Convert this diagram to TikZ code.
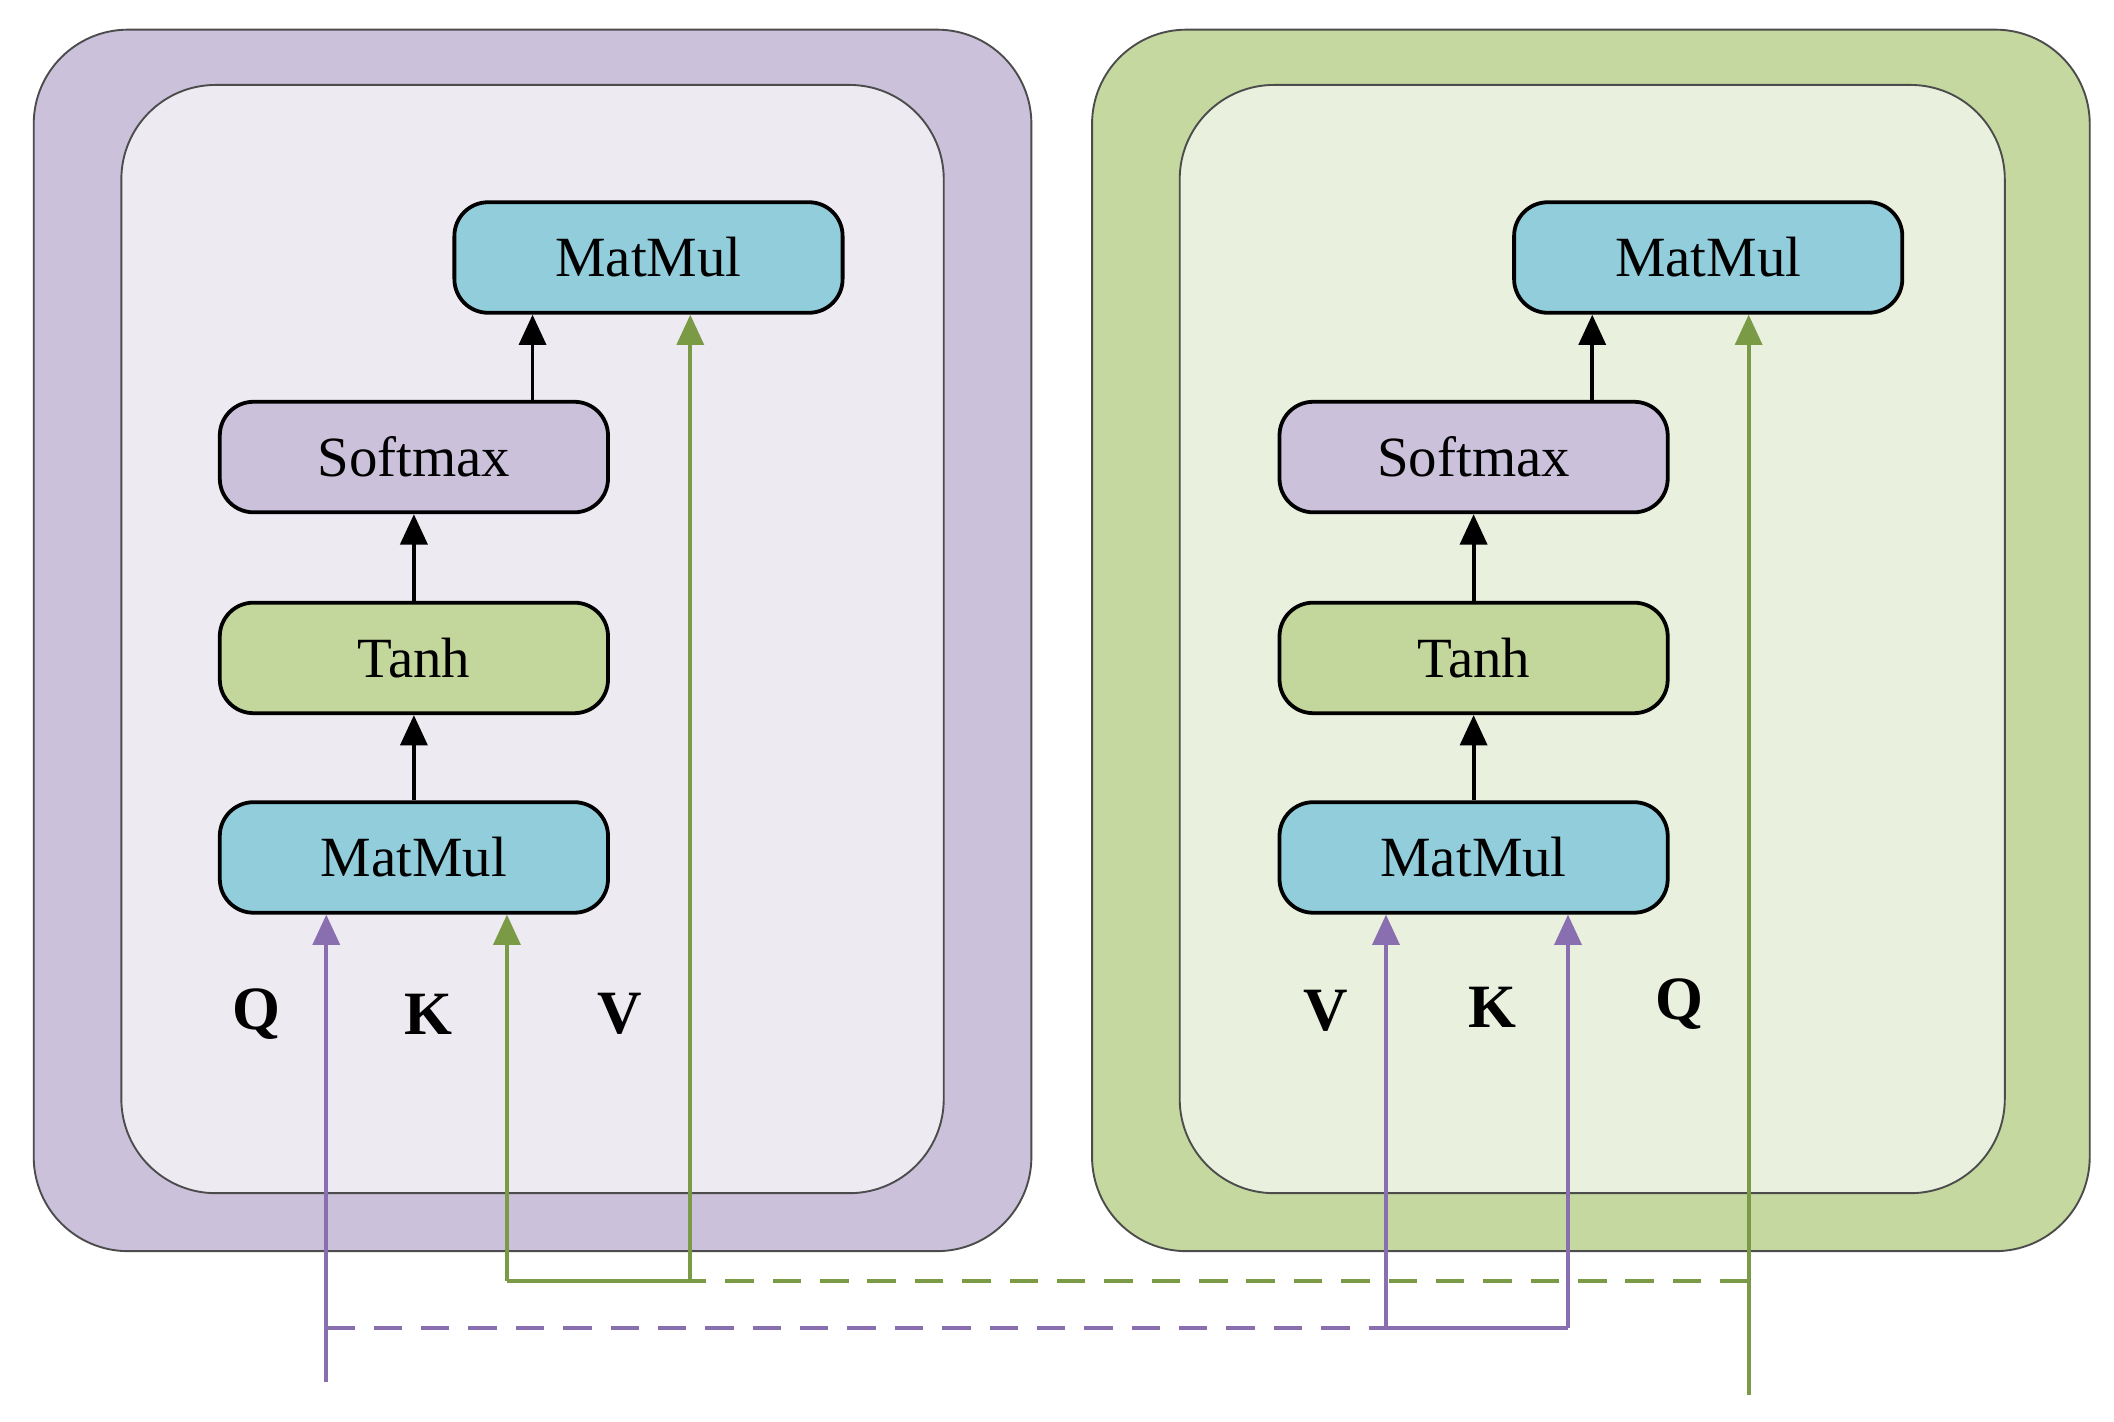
\documentclass[tikz,border=0pt]{standalone}
\usepackage{fontspec}
\setmainfont{Liberation Serif}
\usetikzlibrary{arrows.meta}
\definecolor{pout}{HTML}{CBC1DA}
\definecolor{pin}{HTML}{EEEAF2}
\definecolor{gout}{HTML}{C5D8A0}
\definecolor{gin}{HTML}{E9F0DE}
\definecolor{bc}{HTML}{92CDDC}
\definecolor{pc}{HTML}{CCC1DA}
\definecolor{gc}{HTML}{C3D69B}
\definecolor{pl}{HTML}{8A6FB0}
\definecolor{gl}{HTML}{7A9A45}
\begin{document}
\begin{tikzpicture}[x=0.02cm,y=-0.02cm,
 panel/.style={draw=black!70,line width=0.8pt,rounded corners=1.4cm},
 box/.style={draw=black,line width=1.6pt,rounded corners=0.5cm,minimum width=5.76cm,minimum height=1.64cm,font=\fontsize{24}{28}\selectfont},
 lab/.style={font=\bfseries\fontsize{26}{30}\selectfont},
 ar/.style={-{Triangle[length=0.45cm,width=0.4cm]},line width=1.6pt},
 pa/.style={pl,line width=1.6pt},
 ga/.style={gl,line width=1.6pt}]
\useasboundingbox (0,0) rectangle (1568,1054);
\fill[white] (0,0) rectangle (1568,1054);
\draw[panel,fill=pout] (25,22) rectangle (765,928);
\draw[panel,fill=pin] (90,63) rectangle (700,885);
\draw[panel,fill=gout] (810,22) rectangle (1550,928);
\draw[panel,fill=gin] (875,63) rectangle (1487,885);
% left
\node[box,fill=bc] (lm1) at (481,191) {MatMul};
\node[box,fill=pc] (ls) at (307,339) {Softmax};
\node[box,fill=gc] (lt) at (307,488) {Tanh};
\node[box,fill=bc] (lm2) at (307,636) {MatMul};
\draw[ar] (lm2) -- (lt);
\draw[ar] (lt) -- (ls);
\draw[ar] (ls.north -| 395,0) -- (lm1.south -| 395,0);
% right
\node[box,fill=bc] (rm1) at (1267,191) {MatMul};
\node[box,fill=pc] (rs) at (1093,339) {Softmax};
\node[box,fill=gc] (rt) at (1093,488) {Tanh};
\node[box,fill=bc] (rm2) at (1093,636) {MatMul};
\draw[ar] (rm2) -- (rt);
\draw[ar] (rt) -- (rs);
\draw[ar] (rs.north -| 1181,0) -- (rm1.south -| 1181,0);
% labels
\node[lab] (q1) at (190,752) {Q};
\node[lab] (k1) at (318,752) {K};
\node[lab] (v1) at (460,752) {V};
\node[lab] (v2) at (983,750) {V};
\node[lab] (k2) at (1107,747) {K};
\node[lab] (q2) at (1246,745) {Q};
% connectors
\coordinate (pS) at (242,1025);
\coordinate (pA) at (242,985);
\coordinate (pB) at (1028,985);
\coordinate (pC) at (1163,985);
\coordinate (gS) at (1297,1035);
\coordinate (gA) at (1297,950);
\coordinate (gB) at (512,950);
\coordinate (gC) at (376,950);
\draw[pa,ar,draw=pl,fill=pl] (pS) -- (lm2.south -| pS);
\draw[pa,dashed,dash pattern=on 12pt off 8pt] (pA) -- (pB);
\draw[pa] (pB) -- (pC);
\draw[pa,ar,draw=pl,fill=pl] (pB) -- (rm2.south -| pB);
\draw[pa,ar,draw=pl,fill=pl] (pC) -- (rm2.south -| pC);
\draw[ga,ar,draw=gl,fill=gl] (gS) -- (rm1.south -| gS);
\draw[ga,dashed,dash pattern=on 12pt off 8pt] (gA) -- (gB);
\draw[ga] (gB) -- (gC);
\draw[ga,ar,draw=gl,fill=gl] (gB) -- (lm1.south -| gB);
\draw[ga,ar,draw=gl,fill=gl] (gC) -- (lm2.south -| gC);
\end{tikzpicture}
\end{document}
